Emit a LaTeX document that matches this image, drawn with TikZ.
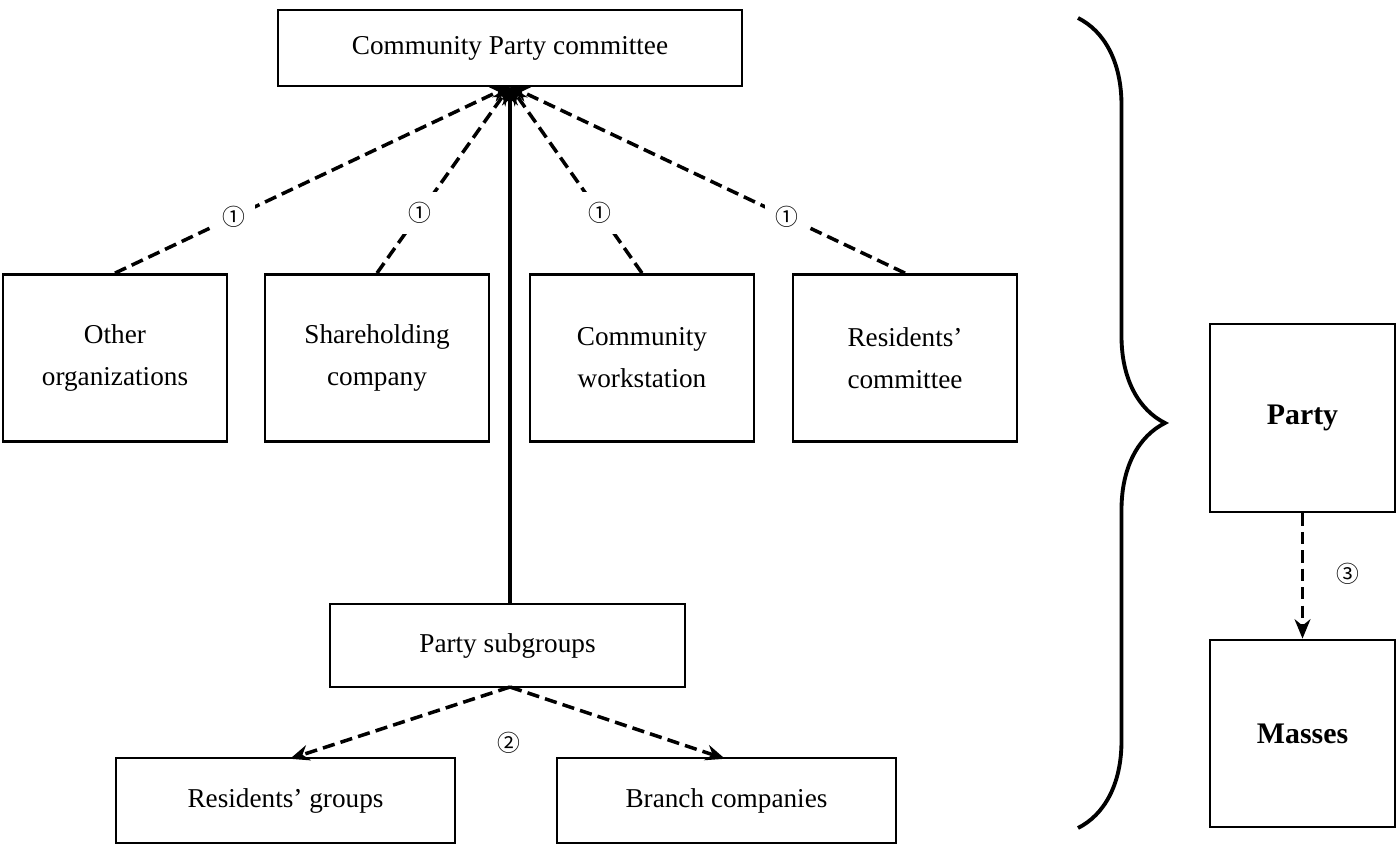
\documentclass[tikz,border=0pt]{standalone}
\usepackage{fontspec}
\setmainfont{Liberation Serif}
\newfontfamily\circfont{Noto Sans CJK SC}
\usetikzlibrary{arrows.meta,decorations.pathreplacing}
\begin{document}
\begin{tikzpicture}[
    x=0.02cm, y=-0.02cm,
    box/.style={
        rectangle,
        draw=black,
        line width=1.6pt,
        font=\fontsize{15.5}{24}\selectfont,
        align=center,
        inner sep=0pt
    },
    link/.style={
        line width=2pt,
        dash pattern=on 7pt off 3.5pt,
        -{Stealth[length=11pt,width=9pt]}
    },
    num/.style={
        fill=white,
        inner sep=6pt,
        font=\circfont\fontsize{13}{13}\selectfont
    }
]
\useasboundingbox (0,0) rectangle (1400,847);

\node[box, minimum width=9.28cm, minimum height=1.52cm] (cpc) at (510,48) {Community Party committee};

\node[box, minimum width=4.48cm, minimum height=3.34cm] (other) at (115,358) {Other\\organizations};
\node[box, minimum width=4.48cm, minimum height=3.34cm] (share) at (377,358) {Shareholding\\company};
\node[box, minimum width=4.48cm, minimum height=3.34cm] (work) at (642,358) {Community\\workstation};
\node[box, minimum width=4.48cm, minimum height=3.34cm] (rescom) at (905,358) {Residents'\\committee};

\node[box, minimum width=7.1cm, minimum height=1.66cm] (sub) at (507.5,645.5) {Party subgroups};
\node[box, minimum width=6.78cm, minimum height=1.7cm] (resgrp) at (285.5,800.5) {Residents' groups};
\node[box, minimum width=6.78cm, minimum height=1.7cm] (branch) at (726.5,800.5) {Branch companies};

\node[box, minimum width=3.7cm, minimum height=3.76cm, font=\fontsize{17}{24}\selectfont\bfseries] (party) at (1302.5,418) {Party};
\node[box, minimum width=3.7cm, minimum height=3.74cm, font=\fontsize{17}{24}\selectfont\bfseries] (masses) at (1302.5,733.5) {Masses};

\coordinate (hub) at (510,86);
\coordinate (fork) at (510,687);

% Links to the committee
\draw[link] (other.north) -- (hub) node[num, pos=0.3] {①};
\draw[link] (share.north) -- (hub) node[num, pos=0.32] {①};
\draw[link] (work.north) -- (hub) node[num, pos=0.32] {①};
\draw[link] (rescom.north) -- (hub) node[num, pos=0.3] {①};
\draw[line width=2pt, -{Stealth[length=11pt,width=9pt]}] (sub.north -| hub) -- (hub);

\draw[link] (fork) -- (290,758.8);
\draw[link] (fork) -- (725,758.8);
\node[font=\circfont\fontsize{13}{13}\selectfont] (n2) at (509,743) {②};

\draw[link] (party.south) -- (masses.north);
\node[font=\circfont\fontsize{13}{13}\selectfont] (n3) at (1348,574) {③};

% Brace
\draw[line width=2.2pt, decorate, decoration={brace, amplitude=1.74cm}] (1078,18) -- (1078,828);
\end{tikzpicture}
\end{document}
